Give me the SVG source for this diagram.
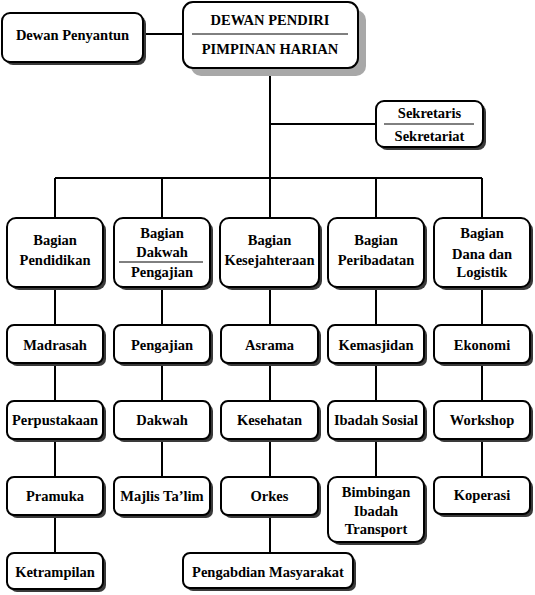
<svg xmlns="http://www.w3.org/2000/svg" width="535" height="595" viewBox="0 0 535 595">
<style>
.box{fill:#fff;stroke:#000;stroke-width:2}
.sh{fill:#3a3a3a}
.sh2{fill:#a8a8a8}
text{font-family:'Liberation Serif','Times New Roman',Tinos,'DejaVu Serif',serif;font-weight:700;font-size:14.5px;fill:#000;text-anchor:middle}
.ln{stroke:#000;stroke-width:2;fill:none}
.dv{stroke:#000;stroke-width:1;fill:none}
</style>
<rect width="535" height="595" fill="#fff"/>
<g id="connectors" class="ln">
<path d="M143,34H183"/>
<path d="M270,68V218"/>
<path d="M270,124H376"/>
<path d="M55,178H482"/>
<path d="M55,178V218M162,178V218M376,178V218M482,178V218"/>
<path d="M55,287V325M162,287V325M270,287V325M376,287V325M482,287V325"/>
<path d="M55,363V401M162,363V401M270,363V401M376,363V401M482,363V401"/>
<path d="M55,439V477M162,439V477M270,439V477M376,439V477M482,439V477"/>
<path d="M55,515V553M270,515V553"/>
</g>
<g id="dewan-penyantun">
<rect class="sh" x="5" y="16" width="141" height="49" rx="8"/>
<rect class="box" x="2" y="13" width="141" height="49" rx="8"/>
<text x="72.5" y="40">Dewan Penyantun</text>
</g>
<g id="dewan-pendiri">
<rect class="sh2" x="191" y="10" width="175" height="66" rx="10"/>
<rect class="box" x="183" y="2" width="175" height="66" rx="10"/>
<text x="270" y="25">DEWAN PENDIRI</text>
<path class="dv" d="M192,34H348"/>
<text x="270" y="54">PIMPINAN HARIAN</text>
</g>
<g id="sekretaris">
<rect class="sh" x="379" y="104" width="107" height="46" rx="8"/>
<rect class="box" x="376" y="101" width="107" height="46" rx="8"/>
<text x="429.5" y="118">Sekretaris</text>
<path class="dv" d="M384,124H474"/>
<text x="429.5" y="141">Sekretariat</text>
</g>
<g id="bagian-pendidikan">
<rect class="sh" x="10" y="221" width="96" height="69" rx="9"/>
<rect class="box" x="7" y="218" width="96" height="69" rx="9"/>
<text x="55" y="245">Bagian</text>
<text x="55" y="265">Pendidikan</text>
</g>
<g id="bagian-dakwah">
<rect class="sh" x="117" y="221" width="96" height="69" rx="9"/>
<rect class="box" x="114" y="218" width="96" height="69" rx="9"/>
<text x="162" y="238">Bagian</text>
<text x="162" y="257">Dakwah</text>
<path class="dv" d="M119,262H203"/>
<text x="162" y="277">Pengajian</text>
</g>
<g id="bagian-kesejahteraan">
<rect class="sh" x="223" y="221" width="99" height="69" rx="9"/>
<rect class="box" x="220" y="218" width="99" height="69" rx="9"/>
<text x="269.5" y="245">Bagian</text>
<text x="269.5" y="265">Kesejahteraan</text>
</g>
<g id="bagian-peribadatan">
<rect class="sh" x="331" y="221" width="96" height="69" rx="9"/>
<rect class="box" x="328" y="218" width="96" height="69" rx="9"/>
<text x="376" y="245">Bagian</text>
<text x="376" y="265">Peribadatan</text>
</g>
<g id="bagian-dana">
<rect class="sh" x="437" y="221" width="96" height="69" rx="9"/>
<rect class="box" x="434" y="218" width="96" height="69" rx="9"/>
<text x="482" y="238">Bagian</text>
<text x="482" y="259">Dana dan</text>
<text x="482" y="277">Logistik</text>
</g>
<g id="madrasah"><rect class="sh" x="10" y="328" width="96" height="38" rx="7"/><rect class="box" x="7" y="325" width="96" height="38" rx="7"/><text x="55" y="350">Madrasah</text></g>
<g id="pengajian"><rect class="sh" x="117" y="328" width="96" height="38" rx="7"/><rect class="box" x="114" y="325" width="96" height="38" rx="7"/><text x="162" y="350">Pengajian</text></g>
<g id="asrama"><rect class="sh" x="224" y="328" width="97" height="38" rx="7"/><rect class="box" x="221" y="325" width="97" height="38" rx="7"/><text x="269.5" y="350">Asrama</text></g>
<g id="kemasjidan"><rect class="sh" x="331" y="328" width="96" height="38" rx="7"/><rect class="box" x="328" y="325" width="96" height="38" rx="7"/><text x="376" y="350">Kemasjidan</text></g>
<g id="ekonomi"><rect class="sh" x="437" y="328" width="96" height="38" rx="7"/><rect class="box" x="434" y="325" width="96" height="38" rx="7"/><text x="482" y="350">Ekonomi</text></g>
<g id="perpustakaan"><rect class="sh" x="10" y="404" width="96" height="38" rx="7"/><rect class="box" x="7" y="401" width="96" height="38" rx="7"/><text x="55" y="425">Perpustakaan</text></g>
<g id="dakwah"><rect class="sh" x="117" y="404" width="96" height="38" rx="7"/><rect class="box" x="114" y="401" width="96" height="38" rx="7"/><text x="162" y="425">Dakwah</text></g>
<g id="kesehatan"><rect class="sh" x="224" y="404" width="97" height="38" rx="7"/><rect class="box" x="221" y="401" width="97" height="38" rx="7"/><text x="269.5" y="425">Kesehatan</text></g>
<g id="ibadah-sosial"><rect class="sh" x="331" y="404" width="96" height="38" rx="7"/><rect class="box" x="328" y="401" width="96" height="38" rx="7"/><text x="376" y="425">Ibadah Sosial</text></g>
<g id="workshop"><rect class="sh" x="437" y="404" width="96" height="38" rx="7"/><rect class="box" x="434" y="401" width="96" height="38" rx="7"/><text x="482" y="425">Workshop</text></g>
<g id="pramuka"><rect class="sh" x="10" y="480" width="96" height="38" rx="7"/><rect class="box" x="7" y="477" width="96" height="38" rx="7"/><text x="55" y="501">Pramuka</text></g>
<g id="majlis"><rect class="sh" x="117" y="480" width="96" height="38" rx="7"/><rect class="box" x="114" y="477" width="96" height="38" rx="7"/><text x="162" y="501">Majlis Ta’lim</text></g>
<g id="orkes"><rect class="sh" x="224" y="480" width="97" height="38" rx="7"/><rect class="box" x="221" y="477" width="97" height="38" rx="7"/><text x="269.5" y="501">Orkes</text></g>
<g id="bimbingan"><rect class="sh" x="331" y="480" width="96" height="65" rx="9"/><rect class="box" x="328" y="477" width="96" height="65" rx="9"/><text x="376" y="497">Bimbingan</text><text x="376" y="516">Ibadah</text><text x="376" y="534">Transport</text></g>
<g id="koperasi"><rect class="sh" x="437" y="480" width="96" height="37" rx="7"/><rect class="box" x="434" y="477" width="96" height="37" rx="7"/><text x="482" y="500">Koperasi</text></g>
<g id="ketrampilan"><rect class="sh" x="10" y="556" width="96" height="36" rx="7"/><rect class="box" x="7" y="553" width="96" height="36" rx="7"/><text x="55" y="577">Ketrampilan</text></g>
<g id="pengabdian"><rect class="sh" x="186" y="556" width="170" height="35" rx="7"/><rect class="box" x="183" y="553" width="170" height="35" rx="7"/><text x="268" y="577">Pengabdian Masyarakat</text></g>
</svg>
